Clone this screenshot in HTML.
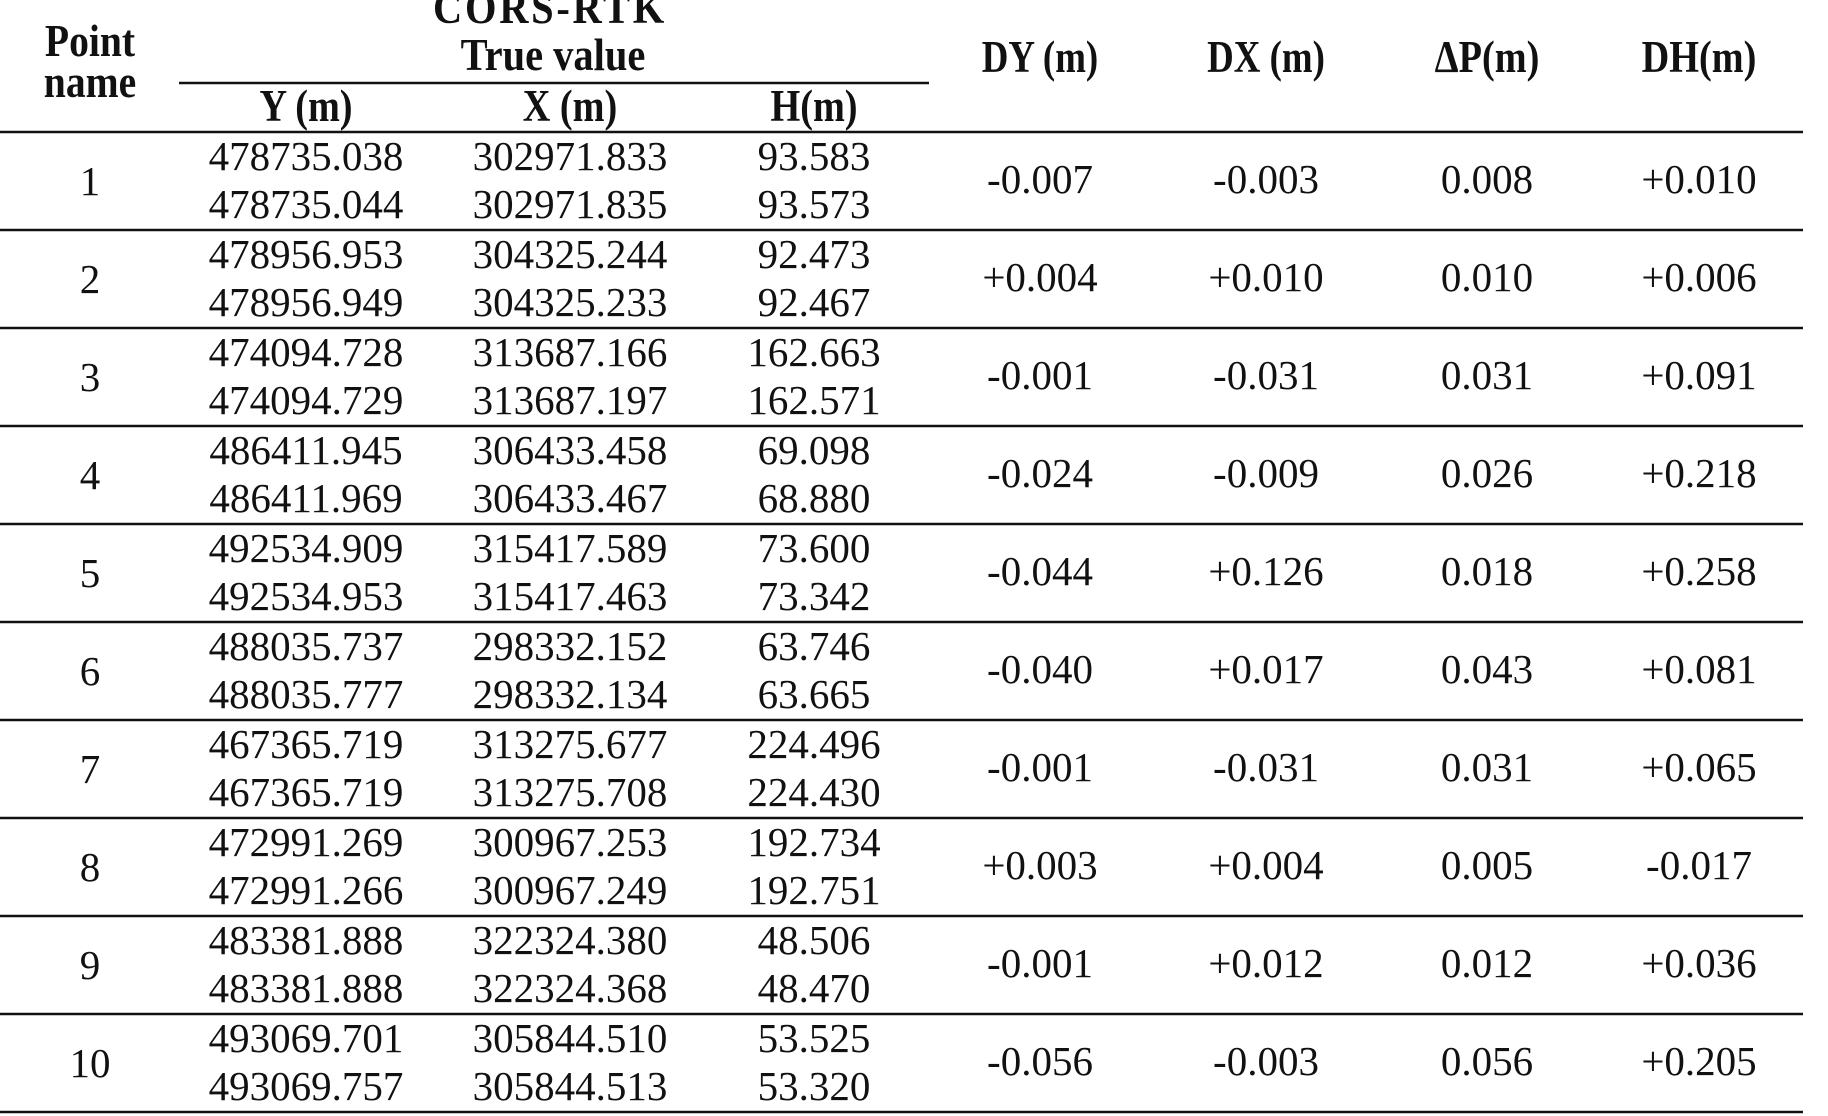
<!DOCTYPE html>
<html><head><meta charset="utf-8"><style>
html,body{margin:0;padding:0;background:#fff}
svg{display:block}
text{font-family:"Liberation Serif",serif;fill:#111}
.h{font-weight:bold;font-size:45px}
.d{font-size:41px}
</style></head><body>
<svg width="1828" height="1116" xmlns="http://www.w3.org/2000/svg">
<g id="hdr" class="h" text-anchor="middle"></g>
<line x1="179" y1="83" x2="929" y2="83" stroke="#111" stroke-width="2.5"/>
<g id="rows" class="d" text-anchor="middle"></g>
</svg>
<script>
var H=[[550,23,"CORS-RTK",0.9],[553,70,"True value",0.9],[90,56,"Point",0.88],[90,97,"name",0.88],
[306,121,"Y (m)",0.85],[570,121,"X (m)",0.85],[814,121,"H(m)",0.85],
[1040,72,"DY (m)",0.82],[1266,72,"DX (m)",0.82],[1487,72,"ΔP(m)",0.85],[1699,72,"DH(m)",0.85]];
var hs='';
for(var k=0;k<H.length;k++){var a=H[k];hs+='<g transform="translate('+a[0]+','+a[1]+') scale('+a[3]+',1)"><text x="0" y="0"'+(a[2]=="CORS-RTK"?' letter-spacing="3"':'')+'>'+a[2]+'</text></g>';}
document.getElementById('hdr').innerHTML=hs;
var D=[
["1","478735.038","302971.833","93.583","478735.044","302971.835","93.573","-0.007","-0.003","0.008","+0.010"],
["2","478956.953","304325.244","92.473","478956.949","304325.233","92.467","+0.004","+0.010","0.010","+0.006"],
["3","474094.728","313687.166","162.663","474094.729","313687.197","162.571","-0.001","-0.031","0.031","+0.091"],
["4","486411.945","306433.458","69.098","486411.969","306433.467","68.880","-0.024","-0.009","0.026","+0.218"],
["5","492534.909","315417.589","73.600","492534.953","315417.463","73.342","-0.044","+0.126","0.018","+0.258"],
["6","488035.737","298332.152","63.746","488035.777","298332.134","63.665","-0.040","+0.017","0.043","+0.081"],
["7","467365.719","313275.677","224.496","467365.719","313275.708","224.430","-0.001","-0.031","0.031","+0.065"],
["8","472991.269","300967.253","192.734","472991.266","300967.249","192.751","+0.003","+0.004","0.005","-0.017"],
["9","483381.888","322324.380","48.506","483381.888","322324.368","48.470","-0.001","+0.012","0.012","+0.036"],
["10","493069.701","305844.510","53.525","493069.757","305844.513","53.320","-0.056","-0.003","0.056","+0.205"]];
var g=document.getElementById('rows'),s='',top0=132,h=98;
function t(x,y,v){return '<text x="'+x+'" y="'+y+'">'+v+'</text>';}
for(var i=0;i<D.length;i++){var r=D[i],y=top0+i*h;
s+='<line x1="0" y1="'+y+'" x2="1803" y2="'+y+'" stroke="#111" stroke-width="2.5"/>';
s+=t(90,y+63,r[0]);
s+=t(306,y+38,r[1])+t(570,y+38,r[2])+t(814,y+38,r[3]);
s+=t(306,y+86,r[4])+t(570,y+86,r[5])+t(814,y+86,r[6]);
s+=t(1040,y+61,r[7])+t(1266,y+61,r[8])+t(1487,y+61,r[9])+t(1699,y+61,r[10]);}
var yb=top0+10*h;
s+='<line x1="0" y1="'+yb+'" x2="1803" y2="'+yb+'" stroke="#111" stroke-width="2.5"/>';
g.innerHTML=s;
</script>
</body></html>
